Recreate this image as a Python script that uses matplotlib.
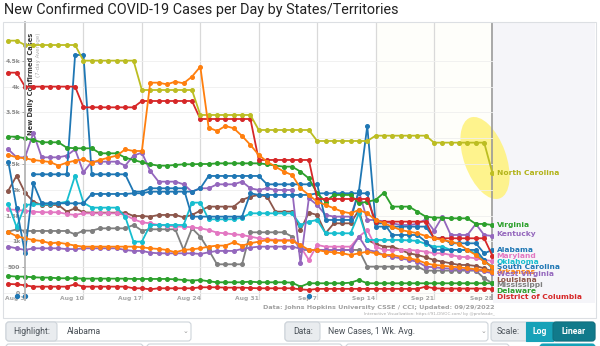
import numpy as np
import matplotlib
matplotlib.use("Agg")
import matplotlib.pyplot as plt
from matplotlib.patches import Rectangle, FancyBboxPatch, Ellipse
from matplotlib.transforms import IdentityTransform

# ---------------- data (Aug 1 .. Sep 28, 2022; day number = day of August) ----------------
days = list(range(1, 60))
week_ticks = [3, 10, 17, 24, 31, 38, 45, 52, 59]
week_labels = ["Aug 3", "Aug 10", "Aug 17", "Aug 24", "Aug 31", "Sep 7", "Sep 14", "Sep 21", "Sep 28"]
y_ticks = [0, 500, 1000, 1500, 2000, 2500, 3000, 3500, 4000, 4500]
y_tick_labels = ["0", "500", "1k", "1.5k", "2k", "2.5k", "3k", "3.5k", "4k", "4.5k"]

north_carolina = [4890, 4890, 4806, 4806, 4806, 4806, 4806, 4806, 4806, 4503,
                  4503, 4503, 4503, 4503, 4503, 4503, 3934, 3934, 3934, 3934,
                  3934, 3934, 3934, 3450, 3450, 3450, 3450, 3450, 3450, 3450,
                  3159, 3159, 3159, 3159, 3159, 3159, 3159, 2946, 2946, 2946,
                  2946, 2946, 2946, 2946, 3049, 3049, 3049, 3049, 3049, 3049,
                  3049, 2914, 2914, 2914, 2914, 2914, 2914, 2914, 2319]
tennessee = [4270, 4270, 4000, 4000, 4000, 4000, 4000, 4000, 4000, 3598,
             3598, 3598, 3598, 3598, 3598, 3598, 3721, 3721, 3721, 3721,
             3721, 3721, 3721, 3372, 3372, 3372, 3372, 3372, 3372, 3372,
             2578, 2578, 2578, 2578, 2578, 2578, 2578, 1822, 1822, 1822,
             1822, 1822, 1822, 1822, 1383, 1383, 1383, 1383, 1383, 1383,
             1383, 1060, 1060, 1060, 1060, 1060, 1060, 1060, 717]
georgia = [2675, 2629, 2610, 2578, 2558, 2539, 2468, 2526, 2565, 2591,
           2526, 2578, 2623, 2662, 2784, 2752, 2752, 4076, 4076, 4044,
           4096, 4064, 4193, 4387, 3204, 3140, 3237, 3192, 3043, 2870,
           2675, 2545, 2449, 2352, 2287, 2029, 1900, 1770, 1706, 1641,
           1577, 1544, 1609, 1544, 1415, 1350, 1286, 1221, 1189, 1157,
           1105, 1060, 1027, 995, 950, 834, 737, 607, 511]
virginia = [3030, 3030, 2998, 2965, 2920, 2920, 2920, 2817, 2804, 2804,
            2804, 2707, 2707, 2707, 2623, 2578, 2533, 2494, 2468, 2468,
            2481, 2494, 2494, 2500, 2500, 2513, 2513, 2513, 2513, 2513,
            2513, 2494, 2468, 2449, 2449, 2352, 2222, 1932, 1770, 1900,
            1900, 1900, 1738, 1770, 1803, 1945, 1674, 1674, 1674, 1577,
            1480, 1460, 1460, 1447, 1447, 1447, 1338, 1338, 1318]
kentucky = [2784, 2629, 2629, 3100, 2629, 2629, 2629, 2662, 2784, 2339,
            2545, 2545, 2545, 2545, 2468, 2662, 2720, 2365, 2158, 2158,
            2158, 2106, 1964, 2029, 2029, 2106, 2106, 2106, 2158, 2029,
            1996, 2029, 1996, 1996, 1996, 575, 1835, 1706, 1512, 1480,
            1480, 1480, 1964, 1415, 1415, 1383, 1350, 1318, 1318, 1338,
            1428, 1208, 1480, 1124, 1124, 1124, 1338, 1124, 1105]
west_virginia = [898, 866, 834, 866, 866, 866, 866, 850, 850, 866,
                 866, 866, 866, 866, 834, 815, 815, 782, 769, 769,
                 769, 769, 769, 756, 788, 815, 815, 815, 853, 879,
                 898, 898, 898, 898, 898, 860, 834, 834, 834, 834,
                 834, 834, 1092, 834, 801, 737, 704, 672, 640, 607,
                 511, 498, 480, 470, 460, 450, 440, 420, 380]
louisiana = [1984, 2274, 1945, 1770, 1706, 1706, 1706, 1577, 1641, 1564,
             1557, 1557, 1557, 1557, 1557, 1492, 1492, 1480, 1512, 1512,
             1512, 1467, 1512, 1596, 1674, 1674, 1674, 1674, 1803, 1867,
             1900, 1867, 1577, 1577, 1577, 1221, 1557, 1512, 1157, 1350,
             1350, 1350, 1609, 1027, 950, 898, 898, 834, 769, 737,
             692, 640, 607, 575, 543, 543, 524, 478, 420]
mississippi = [1189, 1234, 1202, 1202, 1202, 1202, 1202, 1202, 1137, 1208,
               1208, 1253, 1253, 1253, 1253, 1318, 1208, 1234, 1234, 1234,
               1234, 834, 1253, 1092, 834, 556, 556, 556, 556, 1176,
               1176, 1176, 1176, 1176, 1092, 834, 834, 834, 834, 834,
               834, 834, 834, 511, 511, 511, 511, 511, 511, 511,
               433, 433, 433, 433, 433, 433, 433, 285, 188]
maryland = [1622, 1609, 1596, 1577, 1564, 1564, 1564, 1531, 1512, 1544,
            1544, 1544, 1544, 1544, 1512, 1428, 1370, 1350, 1318, 1305,
            1286, 1286, 1273, 1253, 1221, 1170, 1157, 1137, 1124, 1092,
            1060, 1040, 1027, 1027, 1027, 898, 640, 931, 898, 898,
            898, 898, 1092, 1221, 898, 834, 834, 834, 834, 821,
            801, 769, 769, 737, 704, 692, 672, 640, 620]
oklahoma = [1725, 1273, 1706, 1719, 1719, 1719, 1738, 1770, 2274, 1751,
            1654, 1654, 1654, 1654, 1480, 995, 995, 1318, 1318, 1318,
            1318, 1318, 1751, 1751, 1428, 1428, 1428, 1428, 1460, 1544,
            1544, 1544, 1544, 1544, 1544, 1318, 1383, 1415, 1157, 1157,
            1157, 1157, 1544, 1027, 1027, 1027, 1027, 1027, 1020, 1010,
            950, 898, 898, 834, 834, 834, 769, 608, 511]
arkansas = [1182, 1100, 1060, 1027, 1008, 963, 976, 950, 918, 898,
            898, 898, 898, 898, 898, 898, 885, 866, 853, 834,
            788, 834, 847, 866, 898, 918, 918, 982, 918, 963,
            995, 1027, 1014, 1014, 1014, 931, 834, 834, 801, 788,
            769, 737, 769, 801, 769, 737, 737, 704, 672, 640,
            575, 543, 530, 511, 498, 478, 459, 446, 414]
alabama = [np.nan, np.nan, np.nan, 2300, 2300, 2300, 2300, 2300, 4613, 4613,
           2300, 2300, 2300, 2300, 2300, 1964, 1964, 2029, 2029, 2029,
           2029, 2029, 1480, 1480, 1480, 1480, 1480, 1480, 1480, 1932,
           1900, 1900, 1900, 1900, 1900, 1900, 1900, 1932, 1932, 1932,
           1932, 1932, 1932, 1932, 1286, 1286, 1286, 1286, 1286, 1286,
           1286, 1060, 1060, 963, 963, 963, 963, 769, 834]
south_carolina = [2545, 1640, 770, 2126, 1738, 1738, 1738, 1738, 1738, 1738,
                  1919, 1919, 1919, 1919, 1919, 1932, 1932, 1964, 1964, 1964,
                  1964, 1964, 1964, 2029, 2268, 2268, 2268, 2268, 2268, 2268,
                  2268, 2106, 2106, 2106, 2106, 2106, 2106, 2106, 1415, 1415,
                  1415, 1415, 1983, 3237, 1350, 1350, 1124, 1124, 1124, 1124,
                  995, 834, 834, 834, 834, 834, 834, 640, 478]
isolated_blue = [np.nan, -60, -60] + [np.nan] * 33 + [-60] + [np.nan] * 22
delaware = [330, 317, 317, 304, 298, 298, 285, 285, 285, 278,
            278, 278, 278, 278, 278, 272, 272, 272, 272, 272,
            265, 252, 240, 252, 227, 207, 207, 207, 207, 220,
            207, 207, 207, 207, 200, 123, 188, 188, 188, 188,
            188, 200, 252, 188, 188, 188, 188, 188, 188, 188,
            188, 188, 188, 188, 188, 188, 188, 188, 188]
dist_columbia = [175, 168, 149, 123, 123, 123, 123, 123, 168, 123,
                 123, 123, 123, 123, 123, 91, 91, 71, 91, 91,
                 91, 91, 91, 110, 110, 110, 103, 103, 103, 97,
                 91, 91, 91, 91, 91, 71, 59, 80, 80, 80,
                 80, 80, 80, 80, 80, 80, 80, 80, 80, 80,
                 123, 90, 85, 85, 85, 85, 85, 85, 80]

BLUE, ORANGE, GREEN, RED = "#1f77b4", "#ff7f0e", "#2ca02c", "#d62728"
PURPLE, BROWN, PINK, GRAY = "#9467bd", "#8c564b", "#e377c2", "#7f7f7f"
OLIVE, CYAN = "#bcbd22", "#17becf"

# (name, values, colour)
series = [
    ("Mississippi", mississippi, GRAY),
    ("Louisiana", louisiana, BROWN),
    ("Maryland", maryland, PINK),
    ("Oklahoma", oklahoma, CYAN),
    ("West Virginia", west_virginia, PURPLE),
    ("Kentucky", kentucky, PURPLE),
    ("South Carolina", south_carolina, BLUE),
    ("Alabama", alabama, BLUE),
    ("Delaware", delaware, GREEN),
    ("Virginia", virginia, GREEN),
    ("District of Columbia", dist_columbia, RED),
    ("Tennessee", tennessee, RED),
    ("North Carolina", north_carolina, OLIVE),
    ("Arkansas", arkansas, ORANGE),
    ("Georgia", georgia, ORANGE),
]
# label anchor heights (after label collision avoidance), in data units
label_pos = {"North Carolina": 2326, "Virginia": 1318, "Kentucky": 1143, "Alabama": 833,
             "Maryland": 717, "Oklahoma": 601, "South Carolina": 504, "Arkansas": 410,
             "West Virginia": 368, "Louisiana": 252, "Mississippi": 155, "Delaware": 39,
             "District of Columbia": -78}
label_order = ["Arkansas", "North Carolina", "Virginia", "Kentucky", "Oklahoma", "Maryland",
               "Alabama", "South Carolina", "West Virginia", "Louisiana", "Mississippi",
               "Delaware", "District of Columbia"]

# ---------------- figure ----------------
W, H = 600, 346
fig = plt.figure(figsize=(6, 3.46), dpi=100)
fx = lambda x: x / W
fy = lambda y: 1 - y / H


def pxrect(x0, y0, x1, y1, **kw):
    return Rectangle((x0, H - y1), x1 - x0, y1 - y0, transform=IdentityTransform(), **kw)


# background areas
fig.add_artist(pxrect(376, 22, 493, 300, facecolor="#fefefa", edgecolor="none", zorder=-3))
fig.add_artist(pxrect(493, 22, 595, 303, facecolor="#f5f5f9", edgecolor="none", zorder=-3))
fig.add_artist(Ellipse((485, H - 158), width=86, height=42, angle=110, transform=IdentityTransform(),
                       facecolor="#fff27a", edgecolor="none", alpha=0.85, zorder=-1))
fig.add_artist(pxrect(3, 22, 596, 318, facecolor="none", edgecolor="#dcdfe3", lw=0.8, zorder=5))

ax = fig.add_axes([fx(3), fy(300), fx(493) - fx(3), fy(22) - fy(300)])
ax.set_facecolor("none")
ax.set_xlim(0.365, 59.06)
ax.set_ylim(-136, 5252)
ax.set_axisbelow(True)
for s in ["top", "right", "bottom"]:
    ax.spines[s].set_visible(False)
ax.spines["left"].set_position(("data", 3))
ax.spines["left"].set_color("#b5b5b5")
ax.spines["left"].set_linewidth(1.3)

ax.set_yticks(y_ticks)
ax.set_yticklabels(y_tick_labels)
ax.tick_params(axis="y", length=2.5, width=0.6, color="#999999", labelsize=4.3,
               labelcolor="#8a8a8a", pad=1)
ax.set_xticks(week_ticks)
ax.set_xticklabels(week_labels, ha="right")
ax.tick_params(axis="x", length=0, labelsize=4.3, labelcolor="#a5a5a5", pad=-3.2)
for lbl in ax.get_yticklabels() + ax.get_xticklabels():
    lbl.set_fontweight("bold")
ax.yaxis.grid(True, color="#efefef", lw=0.6)
ax.xaxis.grid(True, color="#d9d9d9", lw=0.9)
ax.get_xgridlines()[0].set_visible(False)
ax.get_xgridlines()[-1].set_color("#9a9a9a")
ax.get_xgridlines()[-1].set_linewidth(1.2)

for name, vals, col in series:
    ax.plot(days, vals, color=col, lw=1.3, marker="o", ms=2.6, mec=col, mfc=col,
            solid_joinstyle="round", zorder=2)
ax.plot(days, isolated_blue, linestyle="none", marker="o", ms=2.8, color=BLUE, zorder=2,
        clip_on=False)

colors = {n: c for n, _, c in series}
colors["North Carolina"] = "#b2b31a"
for name in label_order:
    ax.annotate(name, xy=(days[-1], label_pos[name]), xytext=(3, 0), textcoords="offset points",
                va="center", ha="left", color=colors[name], fontsize=5.4, fontweight="bold",
                annotation_clip=False, zorder=6)

# axis title (under the lines)
ax.text(fx(30.5), fy(33), "New Daily Confirmed Cases", transform=fig.transFigure, rotation=90,
        ha="center", va="top", fontsize=4.8, fontweight="bold", color="#333333", zorder=1)
ax.text(fx(38.5), fy(33), "(7-day Average)", transform=fig.transFigure, rotation=90,
        ha="center", va="top", fontsize=4.0, color="#b0b0b0", zorder=1)

# title & credits
fig.text(fx(4), fy(10), "New Confirmed COVID-19 Cases per Day by States/Territories",
         fontsize=10.4, family="Roboto", color="#222222", va="center", ha="left")
fig.text(fx(495), fy(308), "Data: Johns Hopkins University CSSE / CCI; Updated: 09/29/2022",
         ha="right", va="center", fontsize=4.6, fontweight="bold", color="#a0a0a0")
fig.text(fx(495), fy(314.5), "Interactive Visualization: https://91-DIVOC.com/ by @profwade_",
         ha="right", va="center", fontsize=3.0, color="#a8a8a8")


# ---------------- controls row ----------------
def box(x0, y0, x1, y1, fc, ec="#ced4da"):
    fig.add_artist(FancyBboxPatch((x0, H - y1), x1 - x0, y1 - y0, boxstyle="round,pad=0,rounding_size=3",
                                  transform=IdentityTransform(), facecolor=fc, edgecolor=ec, lw=0.8))


def label(x, y, s, **kw):
    kw.setdefault("fontsize", 6.2)
    kw.setdefault("color", "#495057")
    kw.setdefault("family", "Roboto")
    fig.text(fx(x), fy(y), s, va="center", **kw)


box(6, 322, 191, 341, "white")
box(6, 322, 57, 341, "#e9ecef")
label(13, 331.5, "Highlight:")
label(67, 331.5, "Alabama")
label(186, 331, "\u2304", family="DejaVu Sans", color="#999999", fontsize=5, ha="center")

box(285, 322, 488, 341, "white")
box(285, 322, 320, 341, "#e9ecef")
label(293, 331.5, "Data:")
label(328, 331.5, "New Cases, 1 Wk. Avg.")
label(483, 331, "\u2304", family="DejaVu Sans", color="#999999", fontsize=5, ha="center")

box(491, 322, 595, 341, "#e9ecef")
fig.add_artist(pxrect(526, 322, 553, 341, facecolor="#17a2b8", edgecolor="#17a2b8", lw=0.8))
box(553, 322, 595, 341, "#117a8b", ec="#10707f")
label(497, 331.5, "Scale:")
label(539.5, 331.5, "Log", color="white", ha="center", fontweight="bold")
label(574, 331.5, "Linear", color="white", ha="center", fontweight="bold")

box(6, 344, 143, 360, "white")
box(147, 344, 342, 360, "white")
box(346, 344, 509, 360, "white")
box(540, 344, 595, 360, "#17a2b8", ec="#17a2b8")

fig.savefig("out.png", dpi=100)
